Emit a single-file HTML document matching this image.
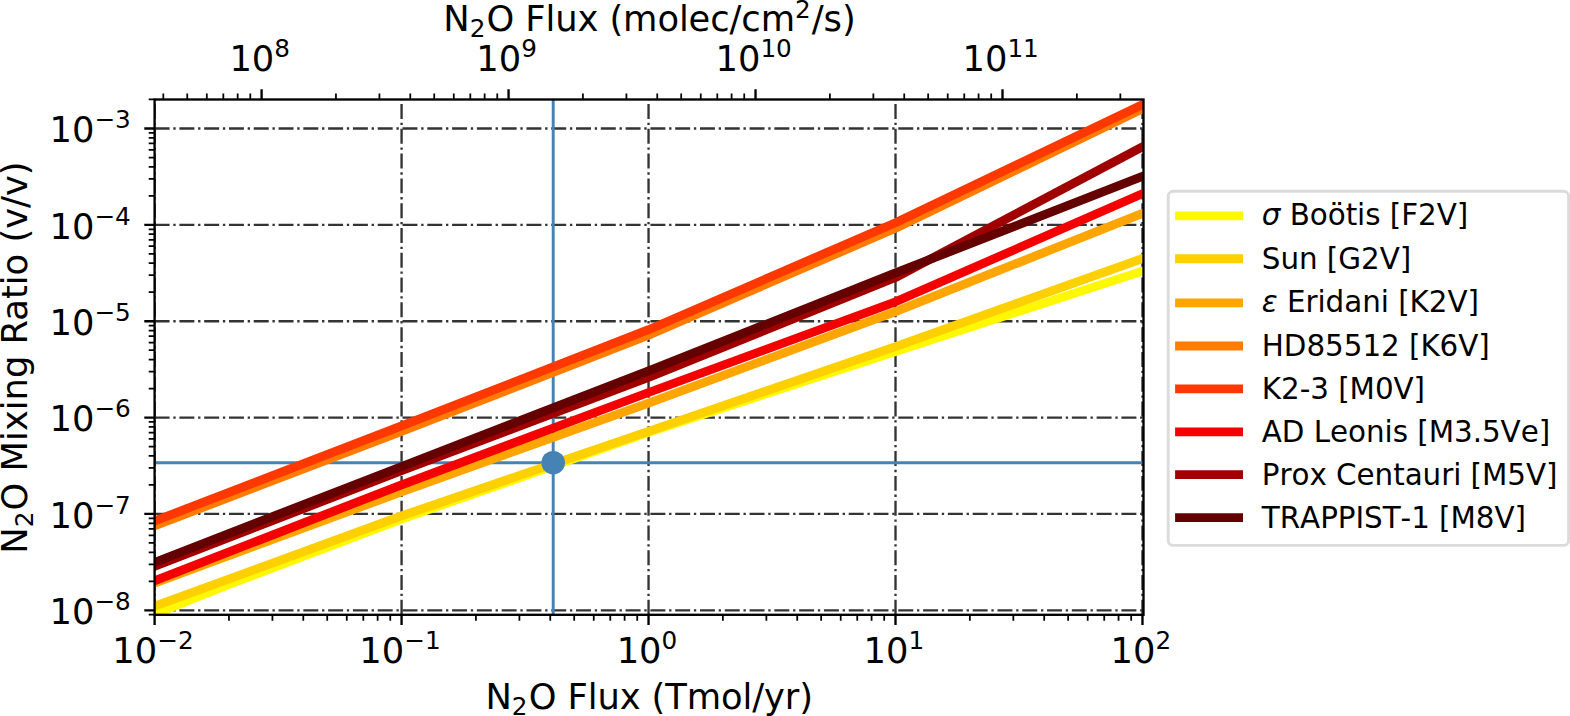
<!DOCTYPE html>
<html lang="en"><head><meta charset="utf-8"><title>N2O Mixing Ratio vs N2O Flux</title>
<style>html,body{margin:0;padding:0;background:#fff}body{width:1570px;height:716px;overflow:hidden}svg{display:block}text{font-family:"DejaVu Sans","Liberation Sans",sans-serif;fill:#000}.t{font-size:35.3px}.l{font-size:29.4px;font-kerning:none;letter-spacing:-0.05px}</style></head><body>
<svg width="1570" height="716" viewBox="0 0 1570 716">
<rect width="1570" height="716" fill="#fff"/>
<defs><clipPath id="ax"><rect x="154.6" y="99.5" width="988.9" height="515.3"/></clipPath></defs>
<g stroke="#333" stroke-width="2.35" stroke-dasharray="14.97 3.74 2.34 3.74" fill="none" clip-path="url(#ax)">
<path d="M154.6 614.8V99.5"/>
<path d="M401.57 614.8V99.5"/>
<path d="M648.54 614.8V99.5"/>
<path d="M895.51 614.8V99.5"/>
<path d="M1142.48 614.8V99.5"/>
<path d="M154.6 610.3H1143.5"/>
<path d="M154.6 513.94H1143.5"/>
<path d="M154.6 417.58H1143.5"/>
<path d="M154.6 321.22H1143.5"/>
<path d="M154.6 224.86H1143.5"/>
<path d="M154.6 128.5H1143.5"/>
</g>
<g stroke="#4682b4" stroke-width="2.94" clip-path="url(#ax)"><path d="M553.2 99.5V614.8"/><path d="M154.6 462.7H1143.5"/></g>
<g fill="none" stroke-width="8.8" stroke-linejoin="round" stroke-linecap="square" clip-path="url(#ax)">
<path stroke="#fff800" d="M154.6 614.2 L228.9 584.5 L401.57 519.2 L648.54 432.3 L895.51 351.6 L1142.48 271.2"/>
<path stroke="#fed000" d="M154.6 606.2 L401.57 515.9 L648.54 431.3 L895.51 346.6 L1142.48 258.5"/>
<path stroke="#ffa500" d="M154.6 583 L401.57 491.8 L648.54 403.2 L895.51 311.6 L1142.48 213.3"/>
<path stroke="#ff7c00" d="M154.6 525.9 L401.57 431.5 L648.54 335.2 L895.51 228.2 L1142.48 108.9"/>
<path stroke="#ff3800" d="M154.6 521 L401.57 425.8 L648.54 329.7 L895.51 222.7 L1142.48 104.7"/>
<path stroke="#f50000" d="M154.6 580.8 L401.57 484.8 L648.54 392.5 L895.51 301.8 L1142.48 193.7"/>
<path stroke="#a00000" d="M154.6 566.4 L401.57 470.6 L648.54 377.4 L895.51 277.5 L1142.48 146.8"/>
<path stroke="#640000" d="M154.6 562.4 L401.57 466.5 L648.54 370.9 L895.51 272.9 L1142.48 176.3"/>
</g>
<circle cx="553.2" cy="462.7" r="11.8" fill="#4682b4"/>
<path d="M154.6 614.8v10.3M401.57 614.8v10.3M648.54 614.8v10.3M895.51 614.8v10.3M1142.48 614.8v10.3M261.6 99.5v-10.3M508.57 99.5v-10.3M755.54 99.5v-10.3M1002.51 99.5v-10.3M154.6 610.3h-10.3M154.6 513.94h-10.3M154.6 417.58h-10.3M154.6 321.22h-10.3M154.6 224.86h-10.3M154.6 128.5h-10.3" stroke="#000" stroke-width="2.35" fill="none"/>
<path d="M228.95 614.8v5.9M272.43 614.8v5.9M303.29 614.8v5.9M327.22 614.8v5.9M346.78 614.8v5.9M363.31 614.8v5.9M377.64 614.8v5.9M390.27 614.8v5.9M475.92 614.8v5.9M519.4 614.8v5.9M550.26 614.8v5.9M574.19 614.8v5.9M593.75 614.8v5.9M610.28 614.8v5.9M624.61 614.8v5.9M637.24 614.8v5.9M722.89 614.8v5.9M766.37 614.8v5.9M797.23 614.8v5.9M821.16 614.8v5.9M840.72 614.8v5.9M857.25 614.8v5.9M871.58 614.8v5.9M884.21 614.8v5.9M969.86 614.8v5.9M1013.34 614.8v5.9M1044.2 614.8v5.9M1068.13 614.8v5.9M1087.69 614.8v5.9M1104.22 614.8v5.9M1118.55 614.8v5.9M1131.18 614.8v5.9M163.32 99.5v-5.9M187.25 99.5v-5.9M206.81 99.5v-5.9M223.34 99.5v-5.9M237.67 99.5v-5.9M250.3 99.5v-5.9M335.95 99.5v-5.9M379.43 99.5v-5.9M410.29 99.5v-5.9M434.22 99.5v-5.9M453.78 99.5v-5.9M470.31 99.5v-5.9M484.64 99.5v-5.9M497.27 99.5v-5.9M582.92 99.5v-5.9M626.4 99.5v-5.9M657.26 99.5v-5.9M681.19 99.5v-5.9M700.75 99.5v-5.9M717.28 99.5v-5.9M731.61 99.5v-5.9M744.24 99.5v-5.9M829.89 99.5v-5.9M873.37 99.5v-5.9M904.23 99.5v-5.9M928.16 99.5v-5.9M947.72 99.5v-5.9M964.25 99.5v-5.9M978.58 99.5v-5.9M991.21 99.5v-5.9M1076.86 99.5v-5.9M1120.34 99.5v-5.9M154.6 614.71h-5.9M154.6 581.29h-5.9M154.6 564.32h-5.9M154.6 552.29h-5.9M154.6 542.95h-5.9M154.6 535.32h-5.9M154.6 528.87h-5.9M154.6 523.28h-5.9M154.6 518.35h-5.9M154.6 484.93h-5.9M154.6 467.96h-5.9M154.6 455.93h-5.9M154.6 446.59h-5.9M154.6 438.96h-5.9M154.6 432.51h-5.9M154.6 426.92h-5.9M154.6 421.99h-5.9M154.6 388.57h-5.9M154.6 371.6h-5.9M154.6 359.57h-5.9M154.6 350.23h-5.9M154.6 342.6h-5.9M154.6 336.15h-5.9M154.6 330.56h-5.9M154.6 325.63h-5.9M154.6 292.21h-5.9M154.6 275.24h-5.9M154.6 263.21h-5.9M154.6 253.87h-5.9M154.6 246.24h-5.9M154.6 239.79h-5.9M154.6 234.2h-5.9M154.6 229.27h-5.9M154.6 195.85h-5.9M154.6 178.88h-5.9M154.6 166.85h-5.9M154.6 157.51h-5.9M154.6 149.88h-5.9M154.6 143.43h-5.9M154.6 137.84h-5.9M154.6 132.91h-5.9M154.6 99.49h-5.9" stroke="#000" stroke-width="1.76" fill="none"/>
<rect x="154.6" y="99.5" width="988.9" height="515.3" fill="none" stroke="#000" stroke-width="2.35"/>
<text class="t" x="112.35" y="662.6">10<tspan dy="-14" font-size="24.7">−2</tspan></text>
<text class="t" x="359.32" y="662.6">10<tspan dy="-14" font-size="24.7">−1</tspan></text>
<text class="t" x="616.64" y="662.6">10<tspan dy="-14" font-size="24.7">0</tspan></text>
<text class="t" x="863.61" y="662.6">10<tspan dy="-14" font-size="24.7">1</tspan></text>
<text class="t" x="1110.58" y="662.6">10<tspan dy="-14" font-size="24.7">2</tspan></text>
<text class="t" x="229.4" y="71.3">10<tspan dy="-14" font-size="24.7">8</tspan></text>
<text class="t" x="476.37" y="71.3">10<tspan dy="-14" font-size="24.7">9</tspan></text>
<text class="t" x="715.49" y="71.3">10<tspan dy="-14" font-size="24.7">10</tspan></text>
<text class="t" x="962.46" y="71.3">10<tspan dy="-14" font-size="24.7">11</tspan></text>
<text class="t" x="49.5" y="624.1">10<tspan dy="-14" font-size="24.7">−8</tspan></text>
<text class="t" x="49.5" y="527.74">10<tspan dy="-14" font-size="24.7">−7</tspan></text>
<text class="t" x="49.5" y="431.38">10<tspan dy="-14" font-size="24.7">−6</tspan></text>
<text class="t" x="49.5" y="335.02">10<tspan dy="-14" font-size="24.7">−5</tspan></text>
<text class="t" x="49.5" y="238.66">10<tspan dy="-14" font-size="24.7">−4</tspan></text>
<text class="t" x="49.5" y="142.3">10<tspan dy="-14" font-size="24.7">−3</tspan></text>
<text class="t" x="443.3" y="31.1" letter-spacing="-0.09">N<tspan dy="5.8" font-size="24.7">2</tspan><tspan dy="-5.8" dx="1.2">O Flux (molec/cm</tspan><tspan dy="-13.3" font-size="24.7">2</tspan><tspan dy="13.3" dx="1.2">/s)</tspan></text>
<text class="t" x="485.5" y="708.7" letter-spacing="-0.09">N<tspan dy="5.8" font-size="24.7">2</tspan><tspan dy="-5.8" dx="1.2">O Flux (Tmol/yr)</tspan></text>
<text class="t" x="27.2" y="553.7" transform="rotate(-90 27.2 553.7)">N<tspan dy="5.8" font-size="24.7">2</tspan><tspan dy="-5.8" dx="1.2">O Mixing Ratio (v/v)</tspan></text>
<rect x="1168.2" y="191.3" width="400.4" height="354.1" rx="5" ry="5" fill="#fff" stroke="#dbdbdb" stroke-width="2.9"/>
<path d="M1175.1 215.9H1243" stroke="#fff800" stroke-width="8.8" fill="none"/>
<text class="l" x="1261.8" y="224.6"><tspan font-style="italic">σ</tspan> Boötis [F2V]</text>
<path d="M1175.1 258.75H1243" stroke="#fed000" stroke-width="8.8" fill="none"/>
<text class="l" x="1261.8" y="269">Sun [G2V]</text>
<path d="M1175.1 302.9H1243" stroke="#ffa500" stroke-width="8.8" fill="none"/>
<text class="l" x="1261.8" y="312.05"><tspan font-style="italic">ε</tspan> Eridani [K2V]</text>
<path d="M1175.1 346H1243" stroke="#ff7c00" stroke-width="8.8" fill="none"/>
<text class="l" x="1261.8" y="356">HD85512 [K6V]</text>
<path d="M1175.1 388.9H1243" stroke="#ff3800" stroke-width="8.8" fill="none"/>
<text class="l" x="1261.8" y="399.1">K2-3 [M0V]</text>
<path d="M1175.1 431.8H1243" stroke="#f50000" stroke-width="8.8" fill="none"/>
<text class="l" x="1261.8" y="442.1">AD Leonis [M3.5Ve]</text>
<path d="M1175.1 474.6H1243" stroke="#a00000" stroke-width="8.8" fill="none"/>
<text class="l" x="1261.8" y="485.1">Prox Centauri [M5V]</text>
<path d="M1175.1 517.6H1243" stroke="#640000" stroke-width="8.8" fill="none"/>
<text class="l" x="1261.8" y="528.1">TRAPPIST-1 [M8V]</text>
</svg></body></html>
